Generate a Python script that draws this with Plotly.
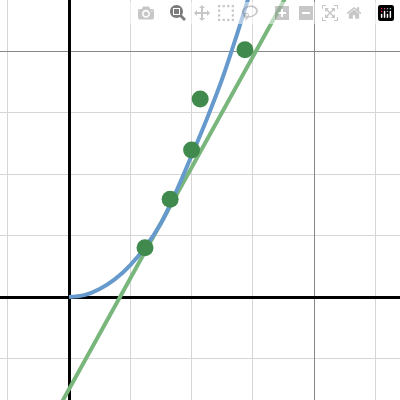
import plotly.graph_objects as go

# curve samples
curve_x = [0, 0.25, 0.5, 0.75, 1, 1.25, 1.5, 1.75, 2, 2.25, 2.5, 2.75, 3]
curve_y = [0, 0.03, 0.13, 0.29, 0.52, 0.82, 1.2, 1.72, 2.3, 2.9, 3.55, 4.3, 5.1]

# straight line endpoints
line_x = [-0.2, 3.6]
line_y = [-1.86, 4.99]

# points
pt_x = [1.24, 1.65, 2.0, 2.14, 2.87]
pt_y = [0.80, 1.59, 2.39, 3.22, 4.02]

fig = go.Figure()
fig.add_trace(go.Scatter(x=line_x, y=line_y, mode="lines",
                         line=dict(color="#78b67c", width=4)))
fig.add_trace(go.Scatter(x=curve_x, y=curve_y, mode="lines", line_shape="spline",
                         line=dict(color="#6699cc", width=4)))
fig.add_trace(go.Scatter(x=pt_x, y=pt_y, mode="markers",
                         marker=dict(color="#3f8a4c", size=17)))

axis = dict(showticklabels=False, ticks="", tick0=0, dtick=4,
            showgrid=True, gridcolor="#888888", gridwidth=1,
            minor=dict(dtick=1, showgrid=True, gridcolor="#d6d6d6", gridwidth=1),
            zeroline=True, zerolinecolor="black", zerolinewidth=2.5,
            showline=False)
fig.update_xaxes(range=[-1.126, 5.4], **axis)
fig.update_yaxes(range=[-1.675, 4.83], **axis)
fig.update_layout(width=400, height=400, margin=dict(l=0, r=0, t=0, b=0),
                  showlegend=False, plot_bgcolor="white", paper_bgcolor="white")
fig.write_html("out.html", post_script="document.body.style.margin='0';")
